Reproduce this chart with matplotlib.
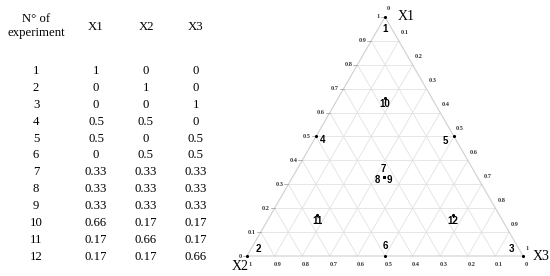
import numpy as np
import matplotlib.pyplot as plt

# Experimental design (mixture fractions)
exp_ids = [1, 2, 3, 4, 5, 6, 7, 8, 9, 10, 11, 12]
x1 = [1, 0, 0, 0.5, 0.5, 0, 0.33, 0.33, 0.33, 0.66, 0.17, 0.17]
x2 = [0, 1, 0, 0.5, 0, 0.5, 0.33, 0.33, 0.33, 0.17, 0.66, 0.17]
x3 = [0, 0, 1, 0, 0.5, 0.5, 0.33, 0.33, 0.33, 0.17, 0.17, 0.66]
headers = ['X1', 'X2', 'X3']
grid_vals = np.round(np.arange(0, 1.01, 0.1), 1)

# label offsets in pixels (dx, dy, y down)
label_offsets = {1: (0, 12), 2: (11, -7), 3: (-12, -7), 4: (7, 4), 5: (-9, 5),
                 6: (0, -10), 7: (0, -8), 8: (-6, 3), 9: (6, 3),
                 10: (0, 6), 11: (0, 6), 12: (0, 6)}

W, H = 550, 276
fig = plt.figure(figsize=(5.5, 2.76), dpi=100)

serif = 'Liberation Serif'

# ---- table on the left ----
col_x = [36, 96, 146, 196]
fig.text(col_x[0] / W, 1 - 26 / H, 'N° of\nexperiment', ha='center', va='center',
         family=serif, fontsize=9.2, linespacing=1.25)
for cx, h in zip(col_x[1:], headers):
    fig.text(cx / W, 1 - 27 / H, h, ha='center', va='center', family=serif, fontsize=9.2)
for i, n in enumerate(exp_ids):
    y = 1 - (71 + i * 16.9) / H
    row = [n, x1[i], x2[i], x3[i]]
    for cx, v in zip(col_x, row):
        fig.text(cx / W, y, f'{v:g}', ha='center', va='center', family=serif, fontsize=9.2)

# ---- ternary diagram ----
scale = 276.0  # pixels per unit
ax = fig.add_axes([(247 - 0.1 * scale) / W, (H - (256 + 0.07 * scale)) / H,
                   1.2 * scale / W, 0.99 * scale / H])
ax.set_xlim(-0.1, 1.1)
ax.set_ylim(-0.07, 0.92)
ax.axis('off')

s3 = np.sqrt(3) / 2


def tern(a, c):
    # a = X1 (top), c = X3 (bottom right), X2 bottom left
    return c + a / 2, a * s3


px = 1 / scale
grid_c = '#e2e2e2'
for g in grid_vals[1:-1]:
    # constant X1
    xa, ya = tern(g, 0)
    xb, yb = tern(g, 1 - g)
    ax.plot([xa, xb], [ya, yb], color=grid_c, lw=0.6, zorder=1)
    # constant X3
    xa, ya = tern(0, g)
    xb, yb = tern(1 - g, g)
    ax.plot([xa, xb], [ya, yb], color=grid_c, lw=0.6, zorder=1)
    # constant X2
    xa, ya = tern(0, 1 - g)
    xb, yb = tern(1 - g, 0)
    ax.plot([xa, xb], [ya, yb], color=grid_c, lw=0.6, zorder=1)

tri_x, tri_y = tern(np.array([0, 0, 1, 0]), np.array([0, 1, 0, 0]))
ax.plot(tri_x, tri_y, color='#cfcfcf', lw=0.8, zorder=2)

tick_font = dict(family=serif, fontsize=4.5, fontweight='bold', color='#333333')
for g in grid_vals:
    lab = f'{g:g}'
    # left edge: X1 values
    xe, ye = tern(g, 0)
    ax.plot([xe - 4 * px, xe], [ye, ye], color='#999999', lw=0.5, zorder=2)
    ax.text(xe - 5 * px, ye, lab, ha='right', va='center', **tick_font)
    # right edge: X3 values
    xe, ye = tern(1 - g, g)
    ax.text(xe + 2 * px, ye + 8 * px, lab, ha='left', va='center', **tick_font)
    # bottom edge: X2 values
    xe, ye = tern(0, 1 - g)
    ax.text(xe + 3.5 * px, ye - 9 * px, lab, ha='center', va='center', **tick_font)

ax.text(0.5 + 13 * px, s3, 'X1', ha='left', va='center', family=serif, fontsize=10)
ax.text(-15 * px, -10 * px, 'X2', ha='left', va='center', family=serif, fontsize=10)
ax.text(1 + 10 * px, 0, 'X3', ha='left', va='center', family=serif, fontsize=10)

# experimental points
px_, py_ = tern(np.array(x1), np.array(x3))
ax.scatter(px_, py_, s=1.5, color='black', zorder=4)
for n, xp, yp in zip(exp_ids, px_, py_):
    dx, dy = label_offsets[n]
    ax.text(xp + dx * px, yp - dy * px, str(n), ha='center', va='center',
            family='Liberation Sans', fontsize=7, fontweight='bold', zorder=5)

fig.savefig('out.png', dpi=100)
